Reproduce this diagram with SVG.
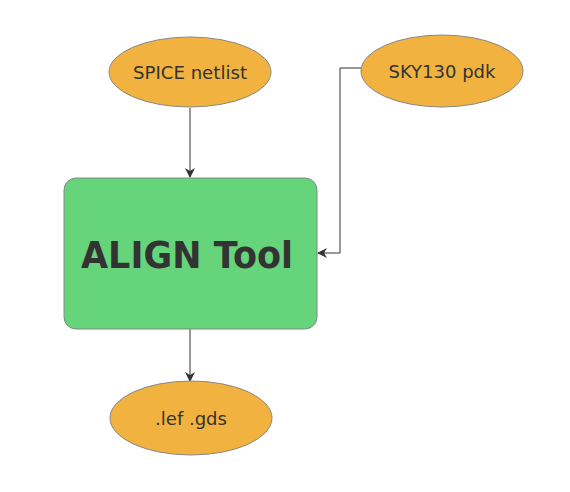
<svg xmlns="http://www.w3.org/2000/svg" width="570" height="492" viewBox="0 0 570 492">
<style>
.oval{fill:#F2B23F;stroke:#888;stroke-width:1}
.box{fill:#66D47A;stroke:#888;stroke-width:1}
.lbl{font-family:"DejaVu Sans",Verdana,sans-serif;font-size:18px;fill:#333;text-anchor:middle}
.big{font-family:"DejaVu Sans",Verdana,sans-serif;font-size:38px;font-weight:bold;fill:#333;text-anchor:middle}
.edge{fill:none;stroke:#333;stroke-width:1}
</style>
<defs>
<marker id="ah" markerWidth="10" markerHeight="10" refX="9" refY="5" orient="auto" markerUnits="userSpaceOnUse">
<path d="M0,0 L10,5 L0,10 L3,5 Z" fill="#333"/>
</marker>
</defs>
<rect width="570" height="492" fill="#fff"/>
<g id="connectors">
<path class="edge" d="M190,108 L190,177" marker-end="url(#ah)"/>
<path class="edge" d="M362,68 L340,68 L340,253 L318,253" marker-end="url(#ah)"/>
<path class="edge" d="M190,329 L190,381" marker-end="url(#ah)"/>
</g>
<g id="spice">
<ellipse class="oval" cx="190" cy="72" rx="81" ry="35"/>
<text class="lbl" x="190" y="79" textLength="114" lengthAdjust="spacingAndGlyphs">SPICE netlist</text>
</g>
<g id="sky130">
<ellipse class="oval" cx="442" cy="71" rx="81" ry="36"/>
<text class="lbl" x="442" y="78">SKY130 pdk</text>
</g>
<g id="align">
<rect class="box" x="64" y="178" width="253" height="151" rx="12" ry="12"/>
<text class="big" x="187" y="268" textLength="212" lengthAdjust="spacingAndGlyphs">ALIGN Tool</text>
</g>
<g id="output">
<ellipse class="oval" cx="191" cy="418" rx="81" ry="37"/>
<text class="lbl" x="191" y="425">.lef .gds</text>
</g>
</svg>
